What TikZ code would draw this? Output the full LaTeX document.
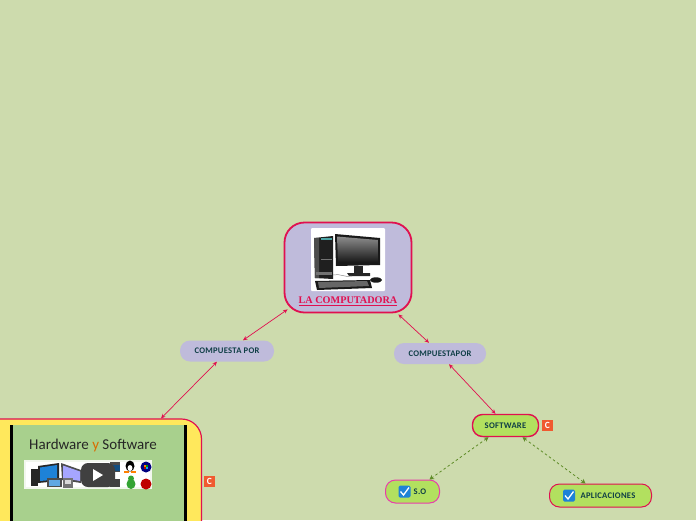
\documentclass[tikz,border=0pt]{standalone}
\usepackage{fontspec}
\setmainfont{Carlito}
\newfontfamily\titlefont{Liberation Serif}
\usetikzlibrary{arrows.meta}
\definecolor{bgc}{RGB}{205,219,173}
\definecolor{lav}{RGB}{191,187,219}
\definecolor{crim}{RGB}{224,16,80}
\definecolor{lime}{RGB}{178,224,95}
\definecolor{yel}{RGB}{255,232,92}
\definecolor{ingreen}{RGB}{168,208,141}
\definecolor{pinkb}{RGB}{232,60,170}
\definecolor{ink}{RGB}{15,62,70}
\definecolor{badge}{RGB}{240,90,48}
\definecolor{arrgreen}{RGB}{95,140,40}
\definecolor{boxblue}{RGB}{30,130,215}
\tikzset{
  x=1pt,y=-1pt,
  pill/.style={rounded corners=10pt,minimum height=21pt,inner sep=0pt,font=\bfseries\fontsize{8.6}{9}\selectfont\addfontfeatures{LetterSpace=3},text=ink},
  lavpill/.style={pill,fill=lav},
  limepill/.style={pill,fill=lime,draw=crim,line width=1.4pt},
  link/.style={crim,line width=.7pt,{Stealth[length=4.5pt,width=4pt]}-{Stealth[length=4.5pt,width=4pt]}},
  sublink/.style={arrgreen,line width=.8pt,dash pattern=on 2.5pt off 2.5pt,{Stealth[length=4.5pt,width=5pt]}-{Stealth[length=4.5pt,width=5pt]}},
  cbadge/.style={fill=badge,text=white,font=\bfseries\fontsize{9.5}{9}\selectfont,minimum width=11pt,minimum height=11pt,inner sep=0pt},
  checkbox/.style={fill=boxblue,rounded corners=1.5pt,minimum width=12pt,minimum height=12pt,inner sep=0pt}
}
\begin{document}
\begin{tikzpicture}
\useasboundingbox (0,0) rectangle (696,520);
\clip (0,0) rectangle (696,520);
\fill[bgc] (0,0) rectangle (696,520);
% main node
\node[draw=crim,fill=lav,line width=1.8pt,rounded corners=20pt,minimum width=127pt,minimum height=90pt,inner sep=0pt] (main) at (348,267.5) {};
\node[inner sep=0pt,text=crim,font=\titlefont\bfseries\fontsize{10.2}{11}\selectfont] (title) at (348,301) {\underline{LA COMPUTADORA}};
% computer picture
\fill[white,rounded corners=1pt] (311,228) rectangle (385,291);
\fill[black!88] (314,238) -- (333,236) -- (333,279) -- (315,278) -- cycle;
\fill[black!70] (314,238) -- (319,238) -- (319,278) -- (315,278) -- cycle;
\fill[teal!70] (321,238) rectangle (332,239.5);
\fill[black!55] (321,259) rectangle (332,260);
\fill[black!55] (316,272) rectangle (332,275);
\fill[black!90] (335,234) -- (380,238) -- (380,265) -- (336,266) -- cycle;
\shade[top color=black!45,bottom color=black!92] (337,236.5) -- (378,240) -- (378,263) -- (338,263) -- cycle;
\fill[black!85] (354,266) rectangle (363,273);
\fill[black!85] (347,273) -- (370,273) -- (370,276) -- (349,276) -- cycle;
\draw[black!45,line width=.5pt] (333,275) .. controls (340,273) and (345,278) .. (352,276);
\fill[black!90] (315,281) -- (370,280) -- (372,288) -- (317,290) -- cycle;
\fill[black!60] (318,282) -- (367,281) -- (369,286) -- (319,288) -- cycle;
\fill[black!90] (376,280) ellipse [x radius=6pt,y radius=2.7pt];
% pills
\node[lavpill,minimum width=94pt] (cpa) at (227,351) {COMPUESTA POR};
\node[lavpill,minimum width=92pt] (cpb) at (440,353.5) {COMPUESTAPOR};
\node[limepill,minimum width=66pt,minimum height=22pt] (soft) at (505.5,425.5) {SOFTWARE};
\node[limepill,draw=pinkb,line width=1pt,minimum width=54pt,minimum height=23pt] (so) at (412.5,491.5) {\hspace{15pt}S.O};
\node[limepill,line width=1pt,minimum width=102pt,minimum height=23pt] (apps) at (600.5,495.5) {\hspace{15pt}APLICACIONES};
\node[checkbox] (cka) at (404.5,491.5) {};
\node[checkbox] (ckb) at (569,495.5) {};
\draw[white,line width=1.3pt] (400.5,491.5) -- (403.5,495) -- (409,487.5);
\draw[white,line width=1.3pt] (565,495.5) -- (568,499) -- (573.5,491.5);
\node[cbadge] (cb) at (547.5,425.5) {C};
\node[cbadge] (cc) at (209.5,481.5) {C};
% big video node
\node[draw=crim,fill=yel,line width=1.2pt,rounded corners=20pt,minimum width=221pt,minimum height=140pt,inner sep=0pt] (video) at (91,489) {};
\fill[black] (10,425) rectangle (187,530);
\fill[ingreen] (13,425) rectangle (184,530);
\node[inner sep=0pt,text=black!85,font=\fontsize{15}{16}\selectfont] (vt) at (93,445) {Hardware \textcolor{orange!85!black}{y} Software};
% thumbnail
\fill[white,opacity=.85] (24,460) rectangle (152,489);
\fill[white] (26,462) rectangle (150,487);
\fill[black!85] (31,469) rectangle (38,486);
\fill[black!85] (38,466) -- (59,463) -- (59,481) -- (38,483) -- cycle;
\fill[boxblue] (40,467.5) -- (57,465) -- (57,479.5) -- (40,481) -- cycle;
\fill[black!70] (47,478) rectangle (62,487);
\fill[boxblue!70] (49,479.5) rectangle (60,485.5);
\fill[black!70] (61,463) -- (81,470) -- (81,483) -- (62,480) -- cycle;
\fill[blue!35!white] (63,465.5) -- (80,471.5) -- (80,481) -- (63,478) -- cycle;
\fill[black!55] (63,478) rectangle (73,488);
\fill[black!15] (65,480) rectangle (71,484);
\fill[black!70] (110,462) rectangle (120,472);
\fill[boxblue!60!black] (112,465) rectangle (120,471);
\fill[black!75] (110,479) rectangle (120,487);
\fill[black] (130,466) ellipse [x radius=4.5pt,y radius=5.5pt];
\fill[white] (130,468) ellipse [x radius=2.5pt,y radius=3pt];
\fill[orange] (124,471) rectangle (129,473);
\fill[orange] (131,471) rectangle (136,473);
\fill[blue!50!black] (146,467) circle (5.5pt);
\fill[orange] (144,465) rectangle (146,467);
\fill[green!60!black] (146,465) rectangle (148,467);
\fill[red!70!black] (144,467) rectangle (146,469);
\fill[cyan] (146,467) rectangle (148,469);
\fill[green!55!black!80] (131,484) ellipse [x radius=4.5pt,y radius=5pt];
\fill[green!55!black!80] (131,478.5) circle (3pt);
\fill[red!75!black] (146,484) circle (5.5pt);
\fill[black!75,rounded corners=7pt] (81,463) rectangle (115,487);
\fill[white] (93,469) -- (103,475) -- (93,481) -- cycle;
% connectors
\draw[link] ([shift={(4,-4)}]main.south west) -- ([xshift=16pt]cpa.north);
\draw[link] ([xshift=-10pt]cpa.south) -- ([xshift=70pt]video.north);
\draw[link] ([shift={(-14,1)}]main.south east) -- ([shift={(-11,0)}]cpb.north);
\draw[link] ([xshift=9pt]cpb.south) -- ([xshift=-10pt]soft.north);
\draw[sublink] ([xshift=-17pt]soft.south) -- ([xshift=17pt]so.north);
\draw[sublink] ([xshift=17pt]soft.south) -- ([xshift=-15pt]apps.north);
\end{tikzpicture}
\end{document}
